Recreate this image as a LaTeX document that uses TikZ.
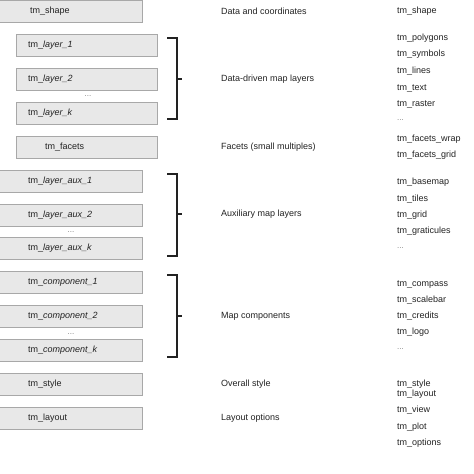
\documentclass[tikz,border=0pt]{standalone}
\usepackage{fontspec}
\setmainfont{Liberation Sans}
\usetikzlibrary{positioning,calc}

\definecolor{boxfill}{HTML}{E8E8E8}
\definecolor{boxline}{HTML}{A8A8A8}
\definecolor{ink}{HTML}{222222}

\tikzset{
  fnbox/.style={draw=boxline, fill=boxfill, line width=0.8pt, minimum height=22pt, inner sep=0pt},
  widebox/.style={fnbox, minimum width=146pt},
  narrowbox/.style={fnbox, minimum width=141pt},
  fnname/.style={anchor=west, inner sep=0pt, text=ink, font=\fontsize{9}{10}\selectfont},
  dotsnode/.style={inner sep=0pt, text=gray, font=\fontsize{8}{8}\selectfont},
  brace/.style={draw=ink, line width=1.1pt}
}

\begin{document}
\begin{tikzpicture}[x=1pt, y=-1pt]
\useasboundingbox (0,0) rectangle (474,474);
\def\xw{69}
\def\xn{86.5}
\def\xt{28}
\def\xm{221}
\def\xr{397}

% left column: function boxes
\node[widebox]   (shape)  at (\xw, 11)  {};
\node[narrowbox] (layera) at (\xn, 45)  {};
\node[narrowbox] (layerb) at (\xn, 79)  {};
\node[narrowbox] (layerk) at (\xn, 113) {};
\node[narrowbox] (facets) at (\xn, 147) {};
\node[widebox]   (auxa)   at (\xw, 181) {};
\node[widebox]   (auxb)   at (\xw, 215) {};
\node[widebox]   (auxk)   at (\xw, 248) {};
\node[widebox]   (compa)  at (\xw, 282) {};
\node[widebox]   (compb)  at (\xw, 316) {};
\node[widebox]   (compk)  at (\xw, 350) {};
\node[widebox]   (style)  at (\xw, 384) {};
\node[widebox]   (layout) at (\xw, 418) {};

\node[fnname] at (30, 11.5)   {tm\_shape};
\node[fnname] at (\xt, 45.5)  {tm\_\textit{layer\_1}};
\node[fnname] at (\xt, 79.5)  {tm\_\textit{layer\_2}};
\node[fnname] at (\xt, 113.5) {tm\_\textit{layer\_k}};
\node[fnname] at (45, 147.5)  {tm\_facets};
\node[fnname] at (\xt, 181.5) {tm\_\textit{layer\_aux\_1}};
\node[fnname] at (\xt, 215.5) {tm\_\textit{layer\_aux\_2}};
\node[fnname] at (\xt, 248.5) {tm\_\textit{layer\_aux\_k}};
\node[fnname] at (\xt, 282.5) {tm\_\textit{component\_1}};
\node[fnname] at (\xt, 316.5) {tm\_\textit{component\_2}};
\node[fnname] at (\xt, 350.5) {tm\_\textit{component\_k}};
\node[fnname] at (\xt, 384.5) {tm\_style};
\node[fnname] at (\xt, 418.5) {tm\_layout};

\node[dotsnode] (dotsa) at (88, 96)  {...};
\node[dotsnode] (dotsb) at (71, 232) {...};
\node[dotsnode] (dotsc) at (71, 334) {...};

% brackets
\draw[brace] (167, 38) -- (177, 38) -- (177, 119) -- (167, 119);
\draw[brace] (177, 79) -- (182, 79);
\draw[brace] (167, 174) -- (177, 174) -- (177, 256) -- (167, 256);
\draw[brace] (177, 214) -- (182, 214);
\draw[brace] (167, 275) -- (177, 275) -- (177, 357) -- (167, 357);
\draw[brace] (177, 316) -- (182, 316);

% middle column
\node[fnname] (data)  at (\xm, 11.5)  {Data and coordinates};
\node[fnname] (ddml)  at (\xm, 79.5)  {Data-driven map layers};
\node[fnname] (facl)  at (\xm, 147.5) {Facets (small multiples)};
\node[fnname] (auxl)  at (\xm, 214.5) {Auxiliary map layers};
\node[fnname] (compl) at (\xm, 316.5) {Map components};
\node[fnname] (stl)   at (\xm, 384.5) {Overall style};
\node[fnname] (layl)  at (\xm, 418.5) {Layout options};

% right column
\node[fnname] (r1)  at (\xr, 11.5)  {tm\_shape};
\node[fnname] (r2)  at (\xr, 38.5)  {tm\_polygons};
\node[fnname] (r3)  at (\xr, 54.5)  {tm\_symbols};
\node[fnname] (r4)  at (\xr, 71.5)  {tm\_lines};
\node[fnname] (r5)  at (\xr, 88.5)  {tm\_text};
\node[fnname] (r6)  at (\xr, 104.5) {tm\_raster};
\node[dotsnode, anchor=west] (r7)  at (\xr, 120) {...};
\node[fnname] (r8)  at (\xr, 139.5) {tm\_facets\_wrap};
\node[fnname] (r9)  at (\xr, 155.5) {tm\_facets\_grid};
\node[fnname] (r10) at (\xr, 182.5) {tm\_basemap};
\node[fnname] (r11) at (\xr, 199.5) {tm\_tiles};
\node[fnname] (r12) at (\xr, 215.5) {tm\_grid};
\node[fnname] (r13) at (\xr, 231.5) {tm\_graticules};
\node[dotsnode, anchor=west] (r14) at (\xr, 248) {...};
\node[fnname] (r15) at (\xr, 284.5) {tm\_compass};
\node[fnname] (r16) at (\xr, 300.5) {tm\_scalebar};
\node[fnname] (r17) at (\xr, 316.5) {tm\_credits};
\node[fnname] (r18) at (\xr, 332.5) {tm\_logo};
\node[dotsnode, anchor=west] (r19) at (\xr, 349) {...};
\node[fnname] (r20) at (\xr, 384.5) {tm\_style};
\node[fnname] (r21) at (\xr, 394.5) {tm\_layout};
\node[fnname] (r22) at (\xr, 410.5) {tm\_view};
\node[fnname] (r23) at (\xr, 427.5) {tm\_plot};
\node[fnname] (r24) at (\xr, 443.5) {tm\_options};
\end{tikzpicture}
\end{document}
